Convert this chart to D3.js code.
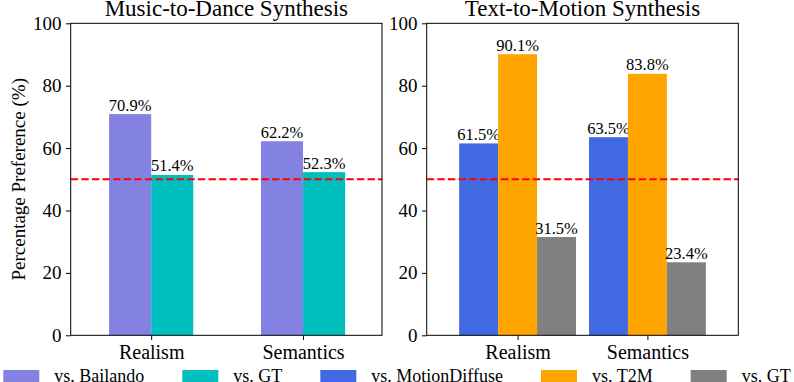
<!DOCTYPE html>
<html lang="en">
<head>
    <meta charset="utf-8">
    <title>Preference study</title>
    <script src="https://cdn.jsdelivr.net/npm/d3@7/dist/d3.min.js"></script>
    <style>
        body { margin: 0; background: #fff; }
    </style>
</head>
<body>
<script>
    // data
    var categories = ["Realism", "Semantics"];
    var yTicks = [0, 20, 40, 60, 80, 100];

    var danceSeries = ["vs. Bailando", "vs. GT"];
    var danceBailando = [70.9, 62.2];
    var danceGT = [51.4, 52.3];

    var motionSeries = ["vs. MotionDiffuse", "vs. T2M", "vs. GT"];
    var motionDiffuse = [61.5, 63.5];
    var motionT2M = [90.1, 83.8];
    var motionGT = [31.5, 23.4];

    var baseline = 50;

    var width = 794, height = 382;
    var plotTop = 23.3, plotBottom = 335.3;
    var serif = "'Liberation Serif', 'Times New Roman', serif";

    var svg = d3.select("body").append("svg")
        .attr("width", width)
        .attr("height", height)
        .attr("font-family", serif);

    var y = d3.scaleLinear().domain([0, 100]).range([plotBottom, plotTop]);

    var panels = [
        {
            title: "Music-to-Dance Synthesis",
            left: 70.7, right: 382,
            xlim: [-0.53, 1.52],
            barW: 0.277,
            series: [danceBailando, danceGT],
            colors: ["#8381e2", "#00bfbf"]
        },
        {
            title: "Text-to-Motion Synthesis",
            left: 426.7, right: 738.3,
            xlim: [-0.7, 1.7],
            barW: 0.3,
            series: [motionDiffuse, motionT2M, motionGT],
            colors: ["#4169e1", "#ffa500", "#808080"]
        }
    ];

    panels.forEach(function(p) {
        var x = d3.scaleLinear().domain(p.xlim).range([p.left, p.right]);
        var g = svg.append("g");
        var n = p.series.length;

        p.series.forEach(function(vals, s) {
            var off = (s - (n - 1) / 2) * p.barW;
            g.selectAll(null)
                .data(vals)
                .enter()
                .append("rect")
                .attr("x", function(d, i) { return x(i + off - p.barW / 2); })
                .attr("width", function(d, i) { return x(i + off + p.barW / 2) - x(i + off - p.barW / 2); })
                .attr("y", function(d) { return y(d); })
                .attr("height", function(d) { return y(0) - y(d); })
                .attr("fill", p.colors[s]);

            g.selectAll(null)
                .data(vals)
                .enter()
                .append("text")
                .attr("x", function(d, i) { return x(i + off); })
                .attr("y", function(d) { return y(d) - 3.5; })
                .attr("text-anchor", "middle")
                .attr("font-size", "16.5px")
                .attr("fill", "#000")
                .text(function(d) { return d.toFixed(1) + "%"; });
        });

        // 50% reference line
        g.append("line")
            .attr("x1", p.left).attr("x2", p.right)
            .attr("y1", y(baseline)).attr("y2", y(baseline))
            .attr("stroke", "#ff0000")
            .attr("stroke-width", 2)
            .attr("stroke-dasharray", "7.4,3.2");

        // frame
        g.append("rect")
            .attr("x", p.left).attr("y", plotTop)
            .attr("width", p.right - p.left).attr("height", plotBottom - plotTop)
            .attr("fill", "none")
            .attr("stroke", "#000")
            .attr("stroke-width", 1);

        var yAxis = d3.axisLeft(y).tickValues(yTicks).tickSize(4.7).tickPadding(4.5);
        var ya = g.append("g").attr("transform", "translate(" + p.left + ",0)").call(yAxis);
        ya.attr("font-family", serif).attr("font-size", 19);
        ya.select(".domain").remove();
        ya.selectAll("text").attr("fill", "#000");

        var xAxis = d3.axisBottom(x).tickValues(d3.range(categories.length))
            .tickFormat(function(d) { return categories[d]; })
            .tickSize(4.7).tickPadding(4.5);
        var xa = g.append("g").attr("transform", "translate(0," + plotBottom + ")").call(xAxis);
        xa.attr("font-family", serif).attr("font-size", 20);
        xa.select(".domain").remove();
        xa.selectAll("text").attr("fill", "#000");

        g.append("text")
            .attr("x", (p.left + p.right) / 2)
            .attr("y", 16)
            .attr("text-anchor", "middle")
            .attr("font-size", "23px")
            .attr("fill", "#000")
            .text(p.title);
    });

    svg.append("text")
        .attr("transform", "translate(24.5," + ((plotTop + plotBottom) / 2) + ") rotate(-90)")
        .attr("text-anchor", "middle")
        .attr("font-size", "19px")
        .attr("fill", "#000")
        .text("Percentage Preference (%)");

    // legend along the bottom, one row, centred
    var legendItems = danceSeries.map(function(s, i) { return { label: s, color: panels[0].colors[i] }; })
        .concat(motionSeries.map(function(s, i) { return { label: s, color: panels[1].colors[i] }; }));

    var handleW = 36, handlePad = 15, colGap = 38;
    var legend = svg.append("g");
    var items = legend.selectAll("g").data(legendItems).enter().append("g");
    items.append("rect")
        .attr("width", handleW).attr("height", 12.6)
        .attr("y", 370)
        .attr("fill", function(d) { return d.color; });
    items.append("text")
        .attr("x", handleW + handlePad)
        .attr("y", 381.5)
        .attr("font-size", "18px")
        .attr("fill", "#000")
        .text(function(d) { return d.label; });

    var widths = [];
    items.each(function() {
        widths.push(handleW + handlePad + d3.select(this).select("text").node().getComputedTextLength());
    });
    var total = d3.sum(widths) + colGap * (widths.length - 1);
    var cx = 397 - total / 2;
    items.attr("transform", function(d, i) {
        var t = "translate(" + cx + ",0)";
        cx += widths[i] + colGap;
        return t;
    });
</script>
</body>
</html>
